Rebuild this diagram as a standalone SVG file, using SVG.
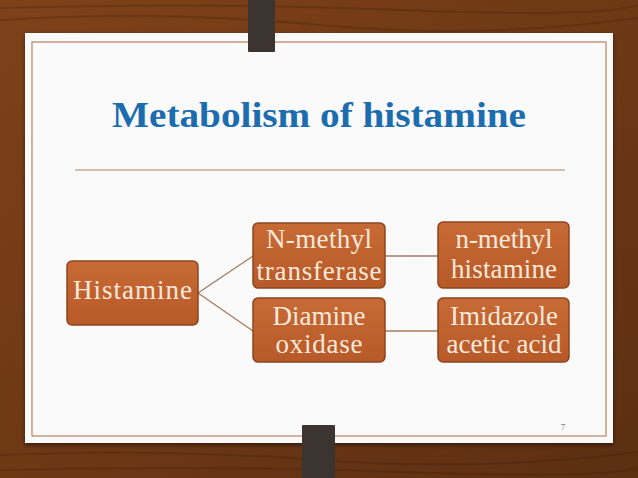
<svg xmlns="http://www.w3.org/2000/svg" width="638" height="478" viewBox="0 0 638 478">
<defs>
<linearGradient id="wood" x1="0" y1="0" x2="1" y2="1">
<stop offset="0" stop-color="#7e4219"/>
<stop offset="0.5" stop-color="#6e3815"/>
<stop offset="1" stop-color="#5c2f12"/>
</linearGradient>
<linearGradient id="box" x1="0" y1="0" x2="0" y2="1">
<stop offset="0" stop-color="#c86a35"/>
<stop offset="1" stop-color="#b85a28"/>
</linearGradient>
<filter id="sh" x="-5%" y="-5%" width="110%" height="115%">
<feDropShadow dx="0" dy="2" stdDeviation="2" flood-color="#000" flood-opacity="0.5"/>
</filter>
</defs>
<style>
.node rect{fill:url(#box);stroke:#8c4520;stroke-width:1.5}
.node text{font-family:"Liberation Serif",serif;font-size:27px;fill:#f7e9dc;text-anchor:middle}
.conn line{stroke:#a97a5c;stroke-width:1.3}
</style>
<rect width="638" height="478" fill="url(#wood)"/>
<g opacity="0.25" stroke="#3a1a08" stroke-width="2" fill="none">
<path d="M0 20 Q160 10 320 25 T638 18"/>
<path d="M0 455 Q160 448 320 460 T638 452"/>
<path d="M0 470 Q200 465 400 472 T638 468"/>
<path d="M0 8 Q200 2 400 10 T638 5"/>
</g>
<rect x="25" y="33" width="588" height="410" fill="#fafafa" filter="url(#sh)"/>
<rect x="32" y="42" width="574" height="394" fill="none" stroke="#b5825f" stroke-width="1.2"/>
<rect x="248" y="0" width="27" height="52" fill="#3b3430" rx="1"/>
<rect x="302" y="425" width="33" height="53" fill="#3b3430" rx="1"/>
<text x="319" y="127" font-family="Liberation Serif,serif" font-size="36" font-weight="bold" fill="#1c6cb0" text-anchor="middle" textLength="414" lengthAdjust="spacingAndGlyphs">Metabolism of  histamine</text>
<line x1="75" y1="170" x2="565" y2="170" stroke="#b5825f" stroke-width="1.2"/>
<g class="conn">
<line x1="198" y1="293" x2="253" y2="256"/>
<line x1="198" y1="293" x2="253" y2="331"/>
<line x1="385" y1="256" x2="438" y2="256"/>
<line x1="385" y1="331" x2="438" y2="331"/>
</g>
<g class="node" id="histamine"><rect x="67" y="261" width="131" height="64" rx="5"/><text x="132.5" y="299" textLength="119" lengthAdjust="spacing">Histamine</text></g>
<g class="node" id="nmt"><rect x="253" y="223" width="132" height="65" rx="5"/><text x="319" y="248" textLength="106" lengthAdjust="spacing">N-methyl</text><text x="319" y="280" textLength="125" lengthAdjust="spacing">transferase</text></g>
<g class="node" id="dao"><rect x="253" y="298" width="132" height="64" rx="5"/><text x="319" y="325" textLength="93" lengthAdjust="spacing">Diamine</text><text x="319" y="353" textLength="87" lengthAdjust="spacing">oxidase</text></g>
<g class="node" id="nmh"><rect x="438" y="222" width="131" height="66" rx="5"/><text x="504" y="248" textLength="97" lengthAdjust="spacing">n-methyl</text><text x="504" y="278" textLength="106" lengthAdjust="spacing">histamine</text></g>
<g class="node" id="iaa"><rect x="438" y="298" width="131" height="64" rx="5"/><text x="504" y="325" textLength="108" lengthAdjust="spacing">Imidazole</text><text x="504" y="353" textLength="115" lengthAdjust="spacing">acetic acid</text></g>
<text x="563" y="430" font-family="Liberation Serif,serif" font-size="9" fill="#777" text-anchor="middle">7</text>
</svg>
